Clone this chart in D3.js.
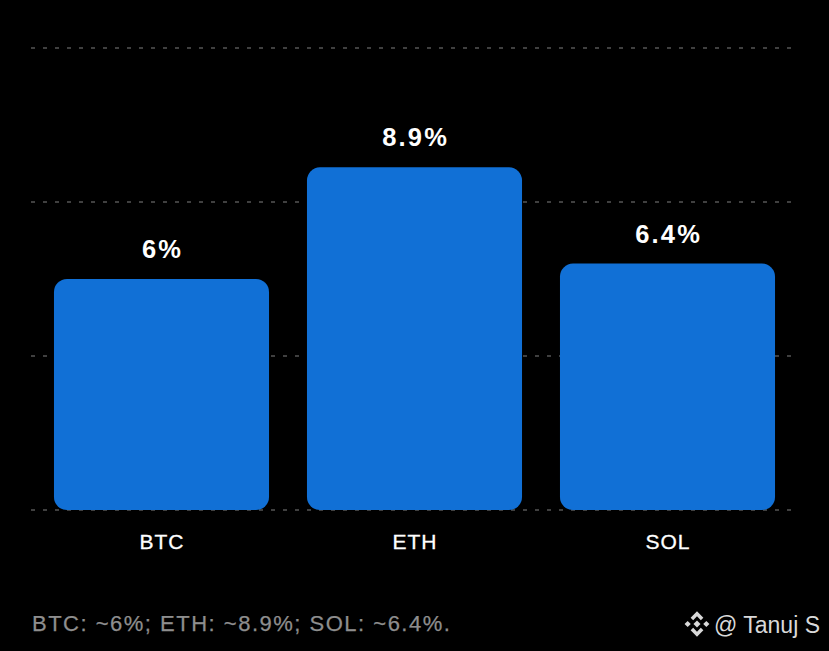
<!DOCTYPE html>
<html><head><meta charset="utf-8">
<script src="https://cdn.jsdelivr.net/npm/d3@7"></script>
<style>html,body{margin:0;padding:0;background:#000;}svg{display:block;}</style>
</head><body>
<svg id="c" width="829" height="651"></svg>
<script>
const categories = ["BTC", "ETH", "SOL"];
const values = [6.0, 8.9, 6.4];
const valueLabels = ["6%", "8.9%", "6.4%"];
const gridTicks = [0, 4, 8, 12];
const footnote = "BTC: ~6%; ETH: ~8.9%; SOL: ~6.4%.";
const credit = "@ Tanuj S";

const svg = d3.select("#c");
const FONT = "'Liberation Sans', Arial, sans-serif";
const x = d3.scaleBand().domain(categories).range([35, 794]).paddingInner(0.15).paddingOuter(0.075);
const y = d3.scaleLinear().domain([0, 12]).range([510, 48]);

// grid
svg.append("g").selectAll("line").data(gridTicks).join("line")
  .attr("x1", 31).attr("x2", 792)
  .attr("y1", d => y(d)).attr("y2", d => y(d))
  .attr("stroke", "#555").attr("stroke-width", 1.3).attr("stroke-dasharray", "4,8");

// bars
svg.append("g").selectAll("rect").data(values).join("rect")
  .attr("x", (d, i) => x(categories[i]))
  .attr("width", x.bandwidth())
  .attr("y", d => y(d))
  .attr("height", d => y(0) - y(d))
  .attr("rx", 13).attr("ry", 13)
  .attr("fill", "#1170D6");

// value labels
svg.append("g").selectAll("text").data(values).join("text")
  .attr("x", (d, i) => x(categories[i]) + x.bandwidth() / 2 + 1.1)
  .attr("y", d => y(d) - 21)
  .attr("text-anchor", "middle")
  .attr("fill", "#fff")
  .attr("font-family", FONT)
  .attr("font-weight", 700)
  .attr("font-size", 25.5)
  .attr("letter-spacing", 2.2)
  .text((d, i) => valueLabels[i]);

// category axis labels
svg.append("g").selectAll("text").data(categories).join("text")
  .attr("x", d => x(d) + x.bandwidth() / 2 + 0.5)
  .attr("y", 549)
  .attr("text-anchor", "middle")
  .attr("fill", "#fff")
  .attr("font-family", FONT)
  .attr("font-size", 21)
  .attr("letter-spacing", 1)
  .attr("stroke", "#fff").attr("stroke-width", 0.3)
  .text(d => d);

// footnote
svg.append("text")
  .attr("x", 32).attr("y", 630.5)
  .attr("fill", "#8e8e8e")
  .attr("font-family", FONT)
  .attr("font-size", 22)
  .attr("letter-spacing", 1.5)
  .attr("stroke", "#8e8e8e").attr("stroke-width", 0.25)
  .text(footnote);

// credit
svg.append("text")
  .attr("x", 820).attr("y", 633)
  .attr("text-anchor", "end")
  .attr("fill", "#d9d9d9")
  .attr("font-family", FONT)
  .attr("font-size", 23)
  .text(credit);

// logo (diamond motif)
const lg = svg.append("g").attr("transform", "translate(697,624) rotate(45)").attr("fill", "#d9d9d9");
const s = 5;
lg.append("rect").attr("x", -s/2).attr("y", -s/2).attr("width", s).attr("height", s);
const L = 9, t = 3.6, len = 9;
[[-1,-1],[1,1]].forEach(([sx, sy]) => {
  lg.append("path").attr("d", `M${sx*L},${sy*L} L${sx*(L-len)},${sy*L} L${sx*(L-len)},${sy*(L-t)} L${sx*(L-t)},${sy*(L-t)} L${sx*(L-t)},${sy*(L-len)} L${sx*L},${sy*(L-len)} Z`);
});
[[1,-1],[-1,1]].forEach(([sx, sy]) => {
  lg.append("rect").attr("x", sx*6.6 - 2.2).attr("y", sy*6.6 - 2.2).attr("width", 4.4).attr("height", 4.4);
});
</script>
</body></html>
